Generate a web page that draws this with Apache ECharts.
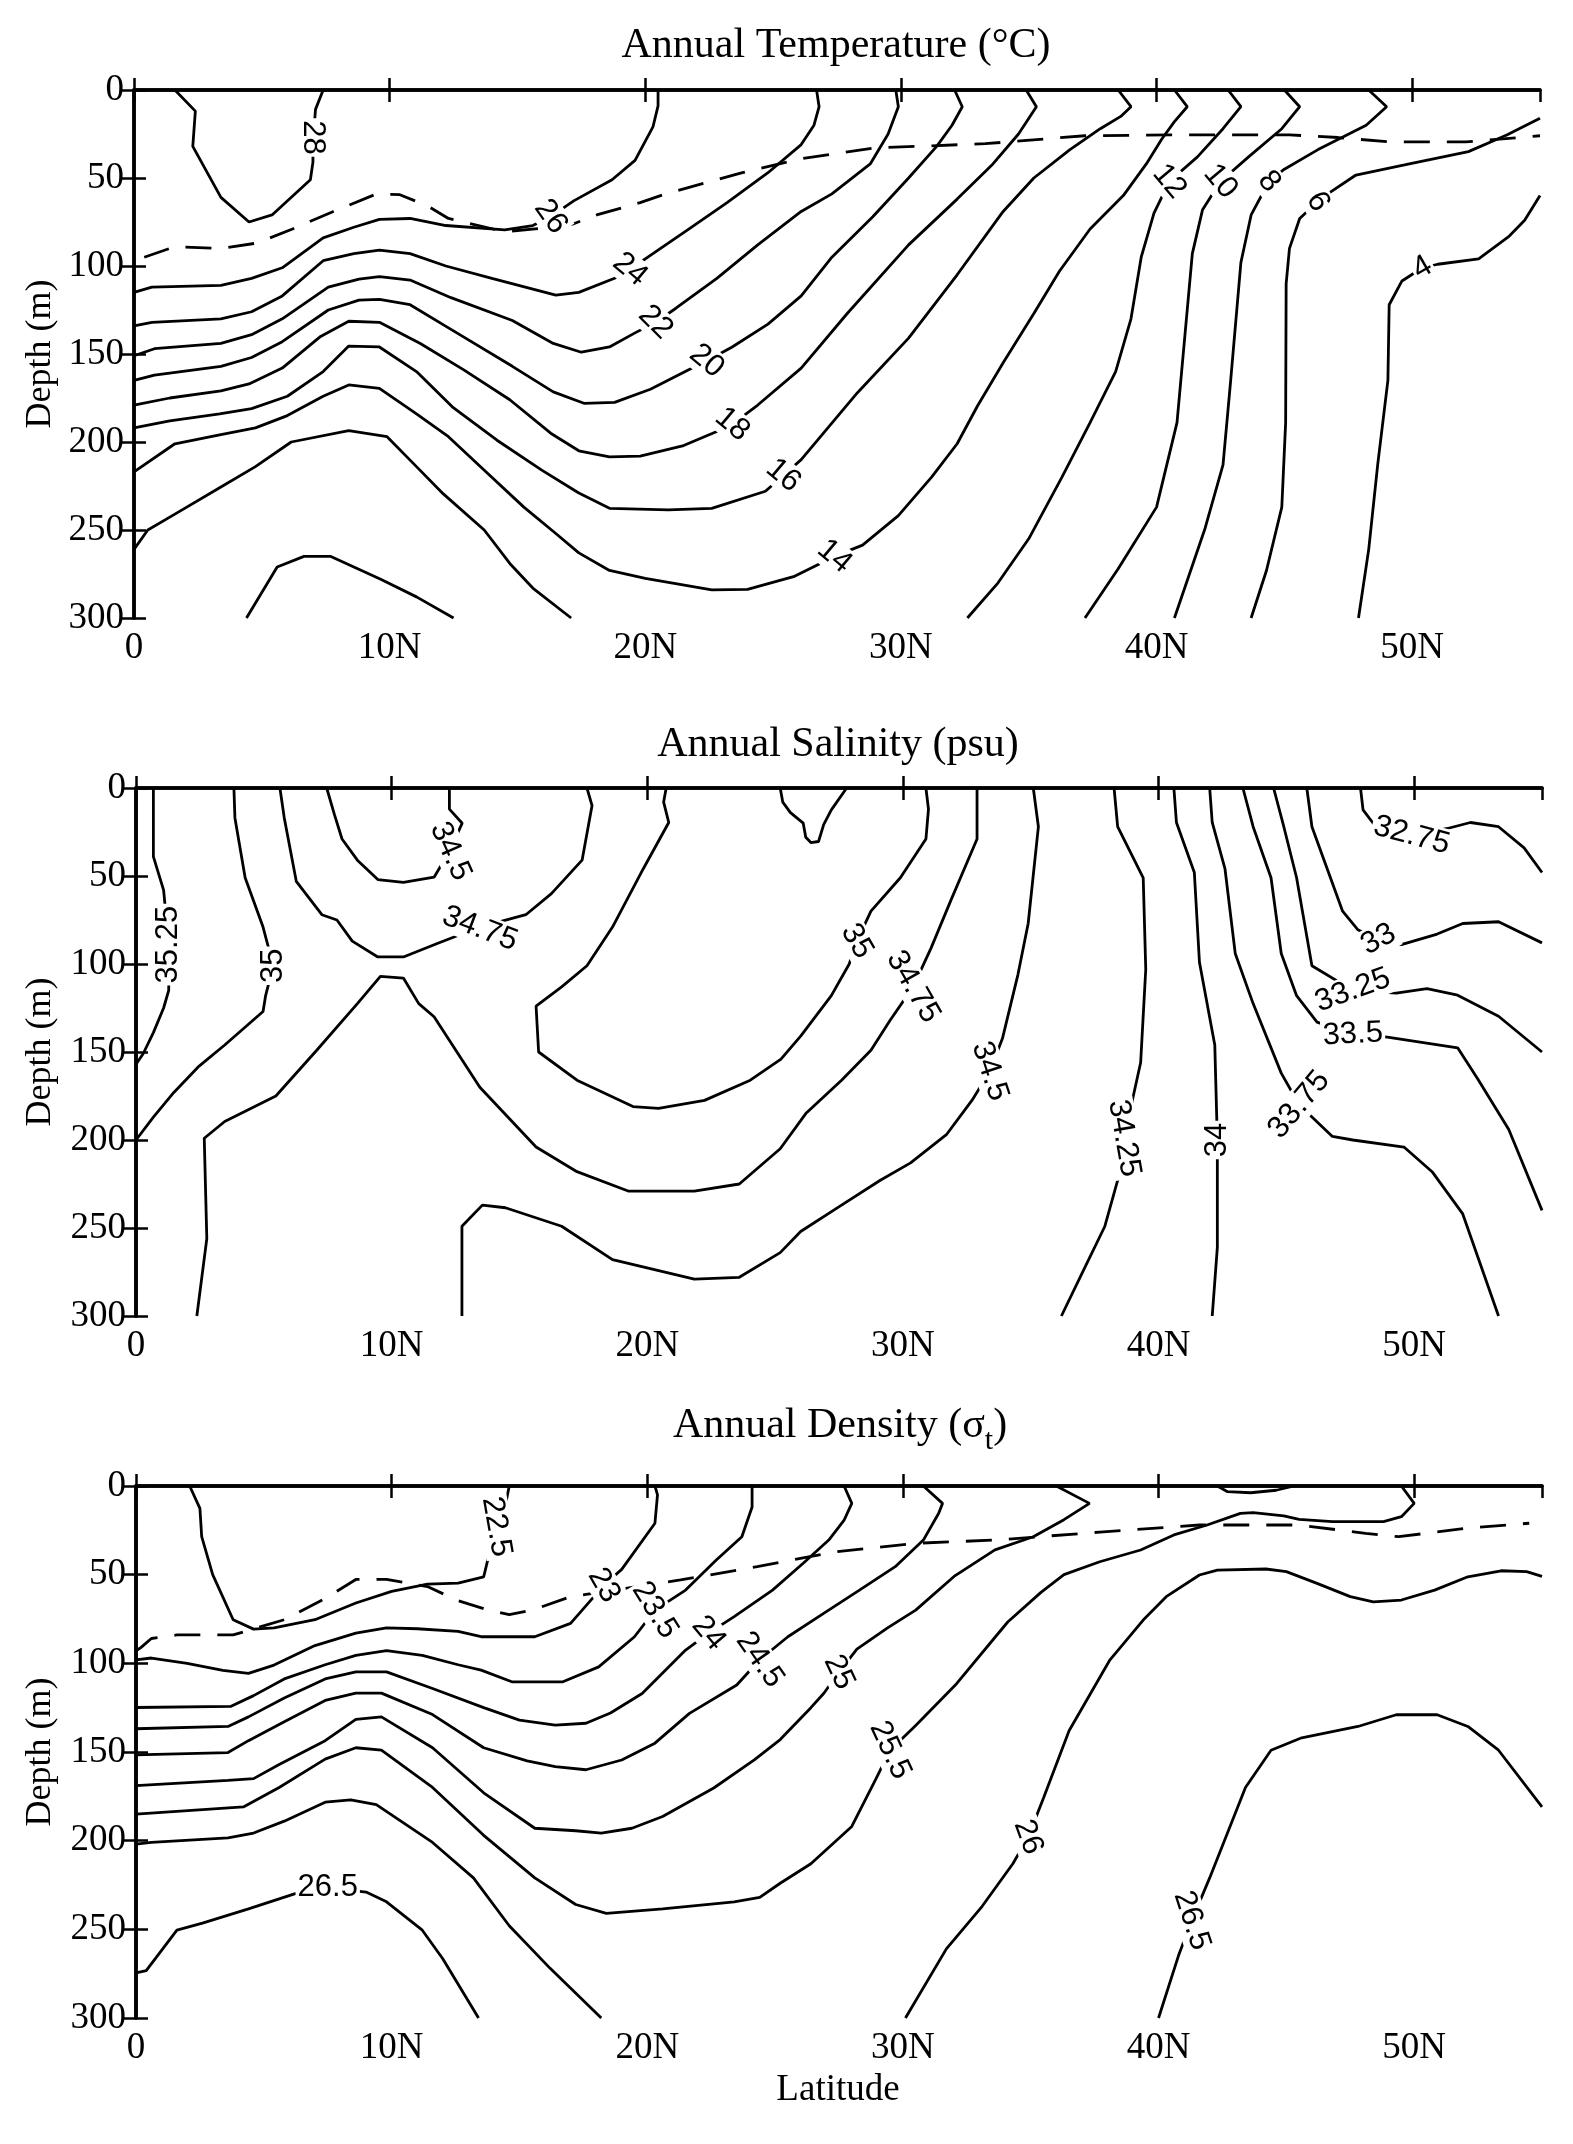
<!DOCTYPE html>
<html>
<head>
<meta charset="utf-8">
<script src="https://cdn.jsdelivr.net/npm/echarts@6/dist/echarts.min.js"></script>
<style>
  html, body { margin: 0; padding: 0; background: #fff; }
  #chart { width: 1573px; height: 2144px; }
</style>
</head>
<body>
<div id="chart"></div>
<script>
// contour lines, each point is [latitude, depth in m]
// --- temperature
var t28 = [[1.6,0],[2.4,12],[2.3,32],[3.4,61],[4.5,75],[5.4,71],[6.9,51],[7.0,41],[7.0,30],[7.1,11],[7.4,0]];
var t26 = [[0,115],[0.7,112],[3.4,111],[4.6,107],[5.8,101],[7.4,84],[8.6,78],[9.6,73.5],[10.8,73],[12.2,77],[14.5,79.5],[15.6,77],[16.3,72],[17.2,63],[18.7,51],[19.6,40],[20.3,21],[20.5,9],[20.5,0]];
var t24 = [[0,134],[0.7,132],[3.4,130],[4.6,126],[5.8,117],[7.4,97],[8.6,93],[9.6,91],[10.8,93],[12.2,100],[14,107],[16.5,116.5],[17.4,115],[18.8,107],[19.4,102],[20.2,94],[21.8,78],[23.2,64],[24.8,47],[26.1,31],[26.6,20],[26.8,9.5],[26.7,0]];
var t22 = [[0,151],[0.8,147],[3.4,144],[4.6,139],[5.8,130],[7.6,112],[8.8,107.5],[9.6,106],[10.8,108],[12.4,118],[14.8,131],[16.4,144],[17.5,149],[18.6,146],[19.6,138],[20.4,132],[21.2,124],[22.8,107],[24.4,88],[26.1,69],[27.3,59],[28.8,42],[29.5,25],[29.9,9.5],[29.8,0]];
var t20 = [[0,165],[0.8,162],[3.4,157],[4.6,152],[5.8,143],[7.6,125],[8.8,119.4],[9.6,119],[10.8,122],[12.4,136],[14.8,157],[16.4,171.5],[17.6,178],[18.8,177.5],[20.2,170],[21.7,159],[22.4,154],[23.4,146],[24.8,133],[26.1,117],[27.3,95],[28.9,72],[30.3,50],[31.4,32],[32.0,20],[32.4,9.5],[32.1,0]];
var t18 = [[0,179],[1.4,175],[3.4,171],[4.5,167],[5.8,158],[7.3,140],[8.4,131.4],[9.6,132],[11.2,144],[12.9,159],[14.7,176],[16.3,195],[17.4,205],[18.6,208.5],[19.8,208],[21.5,202],[22.8,194],[23.4,190],[24.4,179],[26.1,158],[27.9,127],[30.3,88],[32.2,62],[33.6,42],[34.6,25],[35.3,9.5],[34.9,0]];
var t16 = [[0,192],[1.4,188],[3.35,184],[4.6,181],[6.0,174],[7.4,160],[8.4,145.5],[9.6,146],[11.05,160],[12.45,180],[14.2,199],[15.95,216],[17.4,229],[18.6,237.7],[20.9,238.6],[22.6,237.7],[24.7,228],[25.4,219],[26.1,210],[28.3,172],[30.3,141],[32.2,105],[34.0,69],[35.2,50],[36.6,34],[37.8,22],[38.6,15],[39.0,9.5],[38.5,0]];
var t14 = [[0,217],[1.6,201],[3.35,196],[4.75,192],[6.0,185],[7.4,174],[8.4,167.6],[9.6,169.5],[11.05,184],[12.3,197],[13.85,218],[15.25,237],[16.5,252],[17.4,263],[18.6,273],[20.0,277.5],[22.6,284],[24.0,283.7],[25.8,276.5],[27.4,265],[28.5,258.6],[29.9,241.8],[31.2,220],[32.2,201],[33.0,179.4],[34.0,155],[35.2,127],[36.2,103],[37.4,79],[38.7,60],[39.6,42],[40.2,28],[40.7,18],[41.2,9.5],[40.7,0]];
var t12 = [[42.8,0],[43.3,9.5],[42.6,22],[41.6,38],[40.5,52],[39.9,70],[39.4,95],[39.0,130],[38.4,160],[37.4,189],[36.3,220],[35.0,255],[33.8,280],[32.6,300]];
var t10 = [[45.0,0],[45.6,9.5],[44.9,22],[43.6,38],[42.5,52],[41.8,68],[41.4,93],[41.1,141],[40.8,189],[40.0,237],[38.5,272],[37.2,300]];
var t8 = [[48.3,0],[49.0,9.5],[48.2,20],[46.3,34],[45.0,45],[44.4,52],[43.7,71],[43.3,98],[42.9,165],[42.6,213],[41.9,249],[40.7,300]];
var t6 = [[55,16],[53.7,25.6],[52.2,35],[49.7,42.6],[47.8,48.3],[46.8,58],[46.3,63.5],[45.6,73],[45.2,90],[45.07,110],[45.05,189],[44.9,237],[44.3,273],[43.7,300]];
var t4 = [[55,60],[54.4,74],[53.8,83],[52.6,96],[51.0,99],[50.4,101],[49.6,108.5],[49.1,122],[49.05,165],[48.65,213],[48.3,261],[47.9,300]];
var t12b = [[0,261],[0.54,250],[1.6,241],[3.35,226],[4.75,214],[6.15,200],[8.4,193.6],[9.9,197],[11.05,214],[12.1,229.5],[13.7,250],[14.7,269],[15.6,283],[17.1,300]];
var t10b = [[4.4,300],[5.6,271],[6.65,265],[7.7,265],[9.65,278],[11.05,288],[12.5,300]];
var tMld = [[0.4,95],[1.6,89],[3.4,90],[4.8,87],[6.2,79],[7.8,69],[9.5,59],[10.4,59.5],[11.5,66],[12.3,73],[14.5,80.5],[16.4,78],[17.2,76],[18.1,71],[19.8,64],[20.8,59],[23.8,47],[26.1,39],[28.9,33],[33.3,30.5],[37.2,26],[40.8,25.5],[45.2,25.5],[47.1,27],[49.1,29.5],[52.1,29.5],[55,26]];
var tLabels = [['28',7.0,27,-90],['26',16.3,72,-55],['24',19.4,102,-40],['22',20.4,132,-45],['20',22.4,154,-40],['18',23.4,190,-40],['16',25.4,219,-40],['14',27.4,265,-40],['12',40.5,52,-50],['10',42.5,52,-50],['8',44.4,52,-50],['6',46.3,63.5,-60],['4',50.4,101,30]];

// --- salinity
var s3525 = [[0.68,0],[0.68,39],[1.08,58],[1.28,89],[1.28,115],[1.08,125],[0.68,139],[0.28,151],[0,157]];
var s35a = [[3.83,0],[3.87,17],[4.27,51],[4.97,79],[5.37,101],[5.07,118],[4.97,127],[3.47,146],[2.47,158],[1.48,173],[0.68,187],[0,200]];
var s3475a = [[5.63,0],[5.8,17],[6.27,53],[7.27,72],[7.86,75],[8.46,87],[9.46,96],[10.46,96],[11.76,88.5],[13.45,79],[15.25,72],[16.25,60],[17.45,41],[17.84,10],[17.64,0]];
var s345a = [[7.46,0],[7.76,15],[8.06,29],[8.66,41],[9.46,52],[10.46,53.6],[11.66,50.7],[12.26,36],[12.76,20],[12.26,12],[12.26,0]];
var s35b = [[20.74,0],[20.64,8],[20.84,19.6],[19.84,46],[18.64,79],[17.64,101],[16.65,113],[15.65,124],[15.75,150],[17.25,166],[19.44,181],[20.44,182],[22.24,177.5],[24.03,166],[25.23,154],[26.0,141],[27.2,118],[27.9,100],[28.2,87],[28.75,70],[29.9,51],[30.9,29],[31.0,12],[30.9,0]];
var s3525b = [[25.2,0],[25.3,8],[25.6,14],[26.1,20],[26.2,28],[26.4,31],[26.7,30.4],[26.9,20.8],[27.2,12.4],[27.8,0]];
var s3475b = [[2.38,300],[2.77,256],[2.67,199],[3.47,189.5],[5.47,175],[7.07,149],[8.66,122.5],[9.56,107],[10.46,108],[11.06,122.5],[11.66,130],[13.45,170],[15.65,204],[17.25,218],[19.25,229],[21.84,229],[23.6,225],[25.2,205],[26.2,185],[27.6,166],[28.75,149],[29.5,132],[30.4,113],[31.1,91],[31.9,63],[32.9,29],[32.9,0]];
var s345b = [[12.75,300],[12.75,249],[13.55,237],[14.45,238.5],[16.65,249],[18.64,268],[21.84,279],[23.6,278],[25.2,264],[26.0,252],[27.6,237],[29.1,223],[30.3,213],[31.7,197],[32.7,177.5],[33.4,161],[33.9,142],[34.5,106],[34.9,77],[35.3,22],[35.1,0]];
var s3425 = [[38.26,0],[38.4,22],[39.4,51],[39.5,103],[39.3,156],[38.65,199],[38.4,223],[37.9,249],[37.1,273],[36.2,300]];
var s34 = [[40.6,0],[40.7,19.6],[41.4,48],[41.6,99],[42.2,146],[42.3,200],[42.3,261],[42.1,300]];
var s3375 = [[42.0,0],[42.1,19.6],[42.6,46],[43.0,94],[43.7,122.5],[44.8,162],[45.5,180],[46.8,198],[47.6,200],[49.6,204],[50.7,218],[51.9,242],[53.3,300]];
var s335 = [[43.3,0],[43.7,22],[44.4,51],[44.8,94],[45.4,118],[46.2,133],[47.6,140],[48.95,141.6],[51.7,147.6],[52.5,165.6],[53.7,194],[55,240]];
var s3325 = [[44.5,0],[44.9,22],[45.4,51],[46.0,101],[47.6,115],[49.3,116.5],[50.5,114],[51.7,117.7],[53.3,129.7],[55,150]];
var s33 = [[45.8,0],[46.0,22],[46.6,46],[47.2,70],[47.8,80.6],[48.6,86.6],[49.5,89],[50.9,83],[51.9,77],[53.3,76],[55,88]];
var s3275 = [[47.9,0],[48.0,12.4],[48.5,22],[49.0,26],[49.9,27],[51.3,23],[52.2,19.6],[53.3,22],[54.3,34],[55,48]];
var sLabels = [['35.25',1.28,89,90],['35',5.37,101,90],['34.5',12.3,36,-66],['34.75',13.45,80,-21],['35',28.2,87,-60],['34.75',30.4,113,-60],['34.5',33.4,161,-72],['34.25',38.65,199,-80],['34',42.3,200,90],['33.75',45.5,180,50],['33.5',47.6,140,3],['33.25',47.6,115,20],['33',48.6,86,28],['32.75',49.9,27,-15]];

// --- density (sigma-t)
var d225 = [[2.1,0],[2.5,12.6],[2.57,28.6],[3.0,50],[3.8,75.4],[4.6,80.7],[5.4,80],[7.0,75.4],[8.6,66],[10.0,59.4],[11.4,55.3],[12.6,54.8],[13.6,51.3],[13.8,39.3],[14.1,23],[14.5,7.2],[14.6,0]];
var d23 = [[0,98],[0.6,97],[2.0,100],[3.4,104],[4.4,105.7],[5.4,101],[7.0,90],[8.6,83],[9.8,80],[11.0,80.5],[12.6,82],[13.5,85],[15.6,85],[17.0,77.5],[18.3,56],[19.0,47],[20.3,21],[20.4,5],[20.3,0]];
var d235 = [[0,124.9],[3.7,124.3],[4.6,118.2],[5.8,108.8],[7.4,100.8],[8.6,95.5],[9.8,92.8],[11.2,95.5],[12.6,100.8],[13.5,103.8],[14.7,110.4],[16.7,110.4],[18.1,102],[19.5,85],[20.3,70],[21.5,58.7],[22.7,41.7],[23.7,28.6],[24.1,11.8],[24.1,0]];
var d24 = [[0,136.9],[3.6,135.6],[4.4,130.2],[5.8,119.5],[7.4,108.8],[8.6,104.8],[9.8,104.8],[11.6,114.2],[13.6,125],[15.0,132],[16.4,134.8],[17.6,133.8],[18.56,128],[19.8,117],[21.5,92.5],[22.4,83],[23.4,73.7],[24.9,58.7],[26.1,43.6],[27.1,30.5],[27.7,19.2],[28.0,9.8],[27.7,0]];
var d245 = [[0,151.6],[3.6,150.3],[4.4,143.6],[5.8,132.9],[7.4,120.9],[8.6,116.8],[9.6,116.8],[11.6,128.9],[13.6,147.6],[15.3,155],[16.4,158.3],[17.6,160],[19.0,154.5],[20.3,145],[21.65,128.2],[23.5,112.2],[24.4,98],[25.5,85],[26.9,71.8],[28.3,58.7],[29.7,45.5],[30.8,30.5],[31.4,15.4],[31.55,9.8],[30.8,0]];
var d25 = [[0,169],[3.6,166],[4.6,165],[5.6,157],[7.4,143.6],[8.6,131.6],[9.6,130.2],[11.6,147.6],[13.6,173],[15.6,193],[17.2,194.4],[18.2,195.7],[19.4,193],[20.6,186.4],[22.6,170.3],[24.2,154.3],[25.2,143],[26.4,125],[26.9,117],[27.5,105],[28.2,92],[29.4,80],[30.5,70],[32.0,51],[33.6,36],[35.1,28.6],[36.3,19],[37.3,9.8],[36.0,0]];
var d255 = [[0,185],[4.2,181],[5.6,170],[7.4,154],[8.6,147.6],[9.6,149],[11.6,170],[13.6,197],[15.6,221],[17.2,236],[18.4,241],[20.6,238.5],[23.4,234.5],[24.4,232],[25.2,224],[26.4,213],[28,192],[28.95,165],[29.5,149],[30.5,135],[32.1,111.5],[34.1,76.7],[35.4,60],[36.3,50],[37.7,42.7],[39.3,36.1],[40.6,27.6],[41.9,22],[43.2,15.4],[43.7,15],[44.9,16.9],[45.5,18.8],[46.8,20.1],[48.8,20.1],[49.5,17.3],[50.0,9.8],[49.5,0]];
var d26a = [[0,202],[0.6,201],[3.6,198.4],[4.6,195.7],[5.8,189],[7.4,178.3],[8.4,177],[9.4,179.7],[11.6,201],[13.2,221],[14.6,248],[16.2,272],[18.2,300]];
var d26b = [[30.1,300],[31.7,261],[33.1,237],[34.3,213],[34.9,198],[35.5,176],[36.5,138],[38.1,98],[39.4,75.6],[40.3,62.4],[41.6,50.2],[42.3,47.4],[44.2,46.8],[45.0,48.3],[46.2,54.9],[47.5,62.4],[48.4,65.3],[49.5,64.3],[50.8,58.7],[52.1,51.2],[53.4,47.8],[54.4,48.3],[55,51]];
var d265a = [[0,274.6],[0.4,273.3],[1.6,250.5],[2.6,246.5],[4.4,238.5],[6.2,230],[7.5,226.5],[9.0,229],[9.8,234.5],[11.2,250.5],[12.0,266.6],[13.4,300]];
var d265b = [[40.0,300],[40.8,264],[41.3,245],[42.0,221],[43.4,170],[44.4,149],[45.6,142],[47.8,135.6],[49.3,129],[50.9,129],[52.1,135.6],[53.3,149],[55,181]];
var dTop = [[42.3,0],[42.7,3.2],[43.6,3.8],[44.6,2.4],[45.3,0]];
var dMld = [[0,93],[0.2,91],[0.6,86],[1.6,84],[3.8,84],[5.8,75.4],[7.4,63.4],[8.6,52.7],[9.8,52.7],[11.4,56.7],[12.6,64.7],[13.8,70],[14.6,72.5],[15.5,70],[17.0,62.4],[17.8,60.7],[21.3,53],[24.3,45.5],[27.4,37],[30.5,32.3],[33.6,30.5],[37.7,26],[41.6,22],[45.5,22],[48.1,26.7],[49.4,28.6],[52.0,23.9],[54.5,21]];
var dLabels = [['22.5',14.1,23,-80],['23',18.3,56,-60],['23.5',20.3,70,-58],['24',22.4,83,-50],['24.5',24.4,98,-55],['25',27.5,105,-65],['25.5',29.5,149,-65],['26',34.9,198,-70],['26.5',7.5,226.5,0],['26.5',41.3,245,-72]];

var latTicks = [0, 10, 20, 30, 40, 50];
var depthTicks = [0, 50, 100, 150, 200, 250, 300];

var serif = 'Liberation Serif';
var grids = [
  { left: 134, top: 90, width: 1406, height: 528 },
  { left: 136, top: 788, width: 1406, height: 528 },
  { left: 136, top: 1486, width: 1406, height: 532 }
];

function xAxes(p) {
  var base = {
    type: 'value', gridIndex: p, min: 0, max: 55, interval: 10,
    axisLine: { show: true, lineStyle: { color: '#000', width: 3.5 } },
    axisTick: { show: true, inside: true, length: 12, lineStyle: { color: '#000', width: 2.5 } },
    splitLine: { show: false }
  };
  var bottom = Object.assign({}, base, {
    position: 'bottom',
    axisLabel: {
      color: '#000', fontFamily: serif, fontSize: 37, margin: 12,
      showMaxLabel: false,
      formatter: function (v) { return latTicks.indexOf(v) < 0 ? '' : (v === 0 ? '0' : v + 'N'); }
    }
  });
  var top = Object.assign({}, base, { position: 'top', axisLabel: { show: false } });
  return [bottom, top];
}

function yAxes(p) {
  var base = {
    type: 'value', gridIndex: p, min: 0, max: 300, interval: 50, inverse: true,
    axisLine: { show: true, lineStyle: { color: '#000', width: 3.5 } },
    axisTick: { show: true, inside: true, length: 12, lineStyle: { color: '#000', width: 2.5 } },
    splitLine: { show: false }
  };
  var left = Object.assign({}, base, {
    position: 'left',
    axisLabel: {
      color: '#000', fontFamily: serif, fontSize: 37, margin: 10,
      formatter: function (v) { return depthTicks.indexOf(v) < 0 ? '' : String(v); }
    }
  });
  var right = Object.assign({}, base, { position: 'right', axisLabel: { show: false } });
  return [left, right];
}

function contour(pts, p, dashed) {
  return {
    type: 'line', xAxisIndex: 2 * p, yAxisIndex: 2 * p, data: pts,
    symbol: 'none', showSymbol: false, silent: true, animation: false, z: 2,
    lineStyle: { color: '#000', width: 2.8, type: dashed ? [26, 17] : 'solid' }
  };
}

// contour values, drawn on white so the line breaks under them
function labels(list, p) {
  return {
    type: 'scatter', xAxisIndex: 2 * p, yAxisIndex: 2 * p, symbolSize: 1,
    itemStyle: { color: 'rgba(0,0,0,0)' }, silent: true, animation: false, z: 5,
    data: list.map(function (l) {
      return {
        value: [l[1], l[2]],
        label: {
          show: true, position: 'inside', formatter: l[0], rotate: l[3],
          fontFamily: 'Liberation Sans', fontSize: 31, color: '#000',
          textBorderWidth: 0, textShadowBlur: 0, opacity: 1,
          backgroundColor: '#fff', padding: [0, 2]
        }
      };
    })
  };
}

var series = [];
[t28, t26, t24, t22, t20, t18, t16, t14, t12, t10, t8, t6, t4, t12b, t10b].forEach(function (c) { series.push(contour(c, 0)); });
series.push(contour(tMld, 0, true));
series.push(labels(tLabels, 0));
[s3525, s35a, s3475a, s345a, s35b, s3525b, s3475b, s345b, s3425, s34, s3375, s335, s3325, s33, s3275].forEach(function (c) { series.push(contour(c, 1)); });
series.push(labels(sLabels, 1));
[d225, d23, d235, d24, d245, d25, d255, d26a, d26b, d265a, d265b, dTop].forEach(function (c) { series.push(contour(c, 2)); });
series.push(contour(dMld, 2, true));
series.push(labels(dLabels, 2));

function txt(text, x, y, size, rot) {
  return {
    type: 'text', x: x, y: y, rotation: rot || 0, silent: true,
    style: { text: text, fill: '#000', font: size + 'px "' + serif + '"', textAlign: 'center', textVerticalAlign: 'middle' }
  };
}

var graphic = [
  txt('Annual Temperature (\u00b0C)', 836, 46, 42),
  txt('Annual Salinity (psu)', 838, 745, 42),
  {
    type: 'text', x: 840, y: 1426, silent: true,
    style: {
      text: '{n|Annual Density (\u03c3}{s|t}{n|)}', textAlign: 'center', textVerticalAlign: 'middle',
      rich: {
        n: { fontFamily: serif, fontSize: 42, fill: '#000' },
        s: { fontFamily: serif, fontSize: 30, fill: '#000', padding: [30, 0, 0, 0] }
      }
    }
  },
  txt('Depth (m)', 41, 354, 36, Math.PI / 2),
  txt('Depth (m)', 41, 1052, 36, Math.PI / 2),
  txt('Depth (m)', 41, 1752, 36, Math.PI / 2),
  txt('Latitude', 838, 2090, 37)
];

var option = {
  backgroundColor: '#fff',
  animation: false,
  grid: grids,
  xAxis: xAxes(0).concat(xAxes(1), xAxes(2)),
  yAxis: yAxes(0).concat(yAxes(1), yAxes(2)),
  series: series,
  graphic: graphic
};

var myChart = echarts.init(document.getElementById('chart'));
myChart.setOption(option);
</script>
</body>
</html>
